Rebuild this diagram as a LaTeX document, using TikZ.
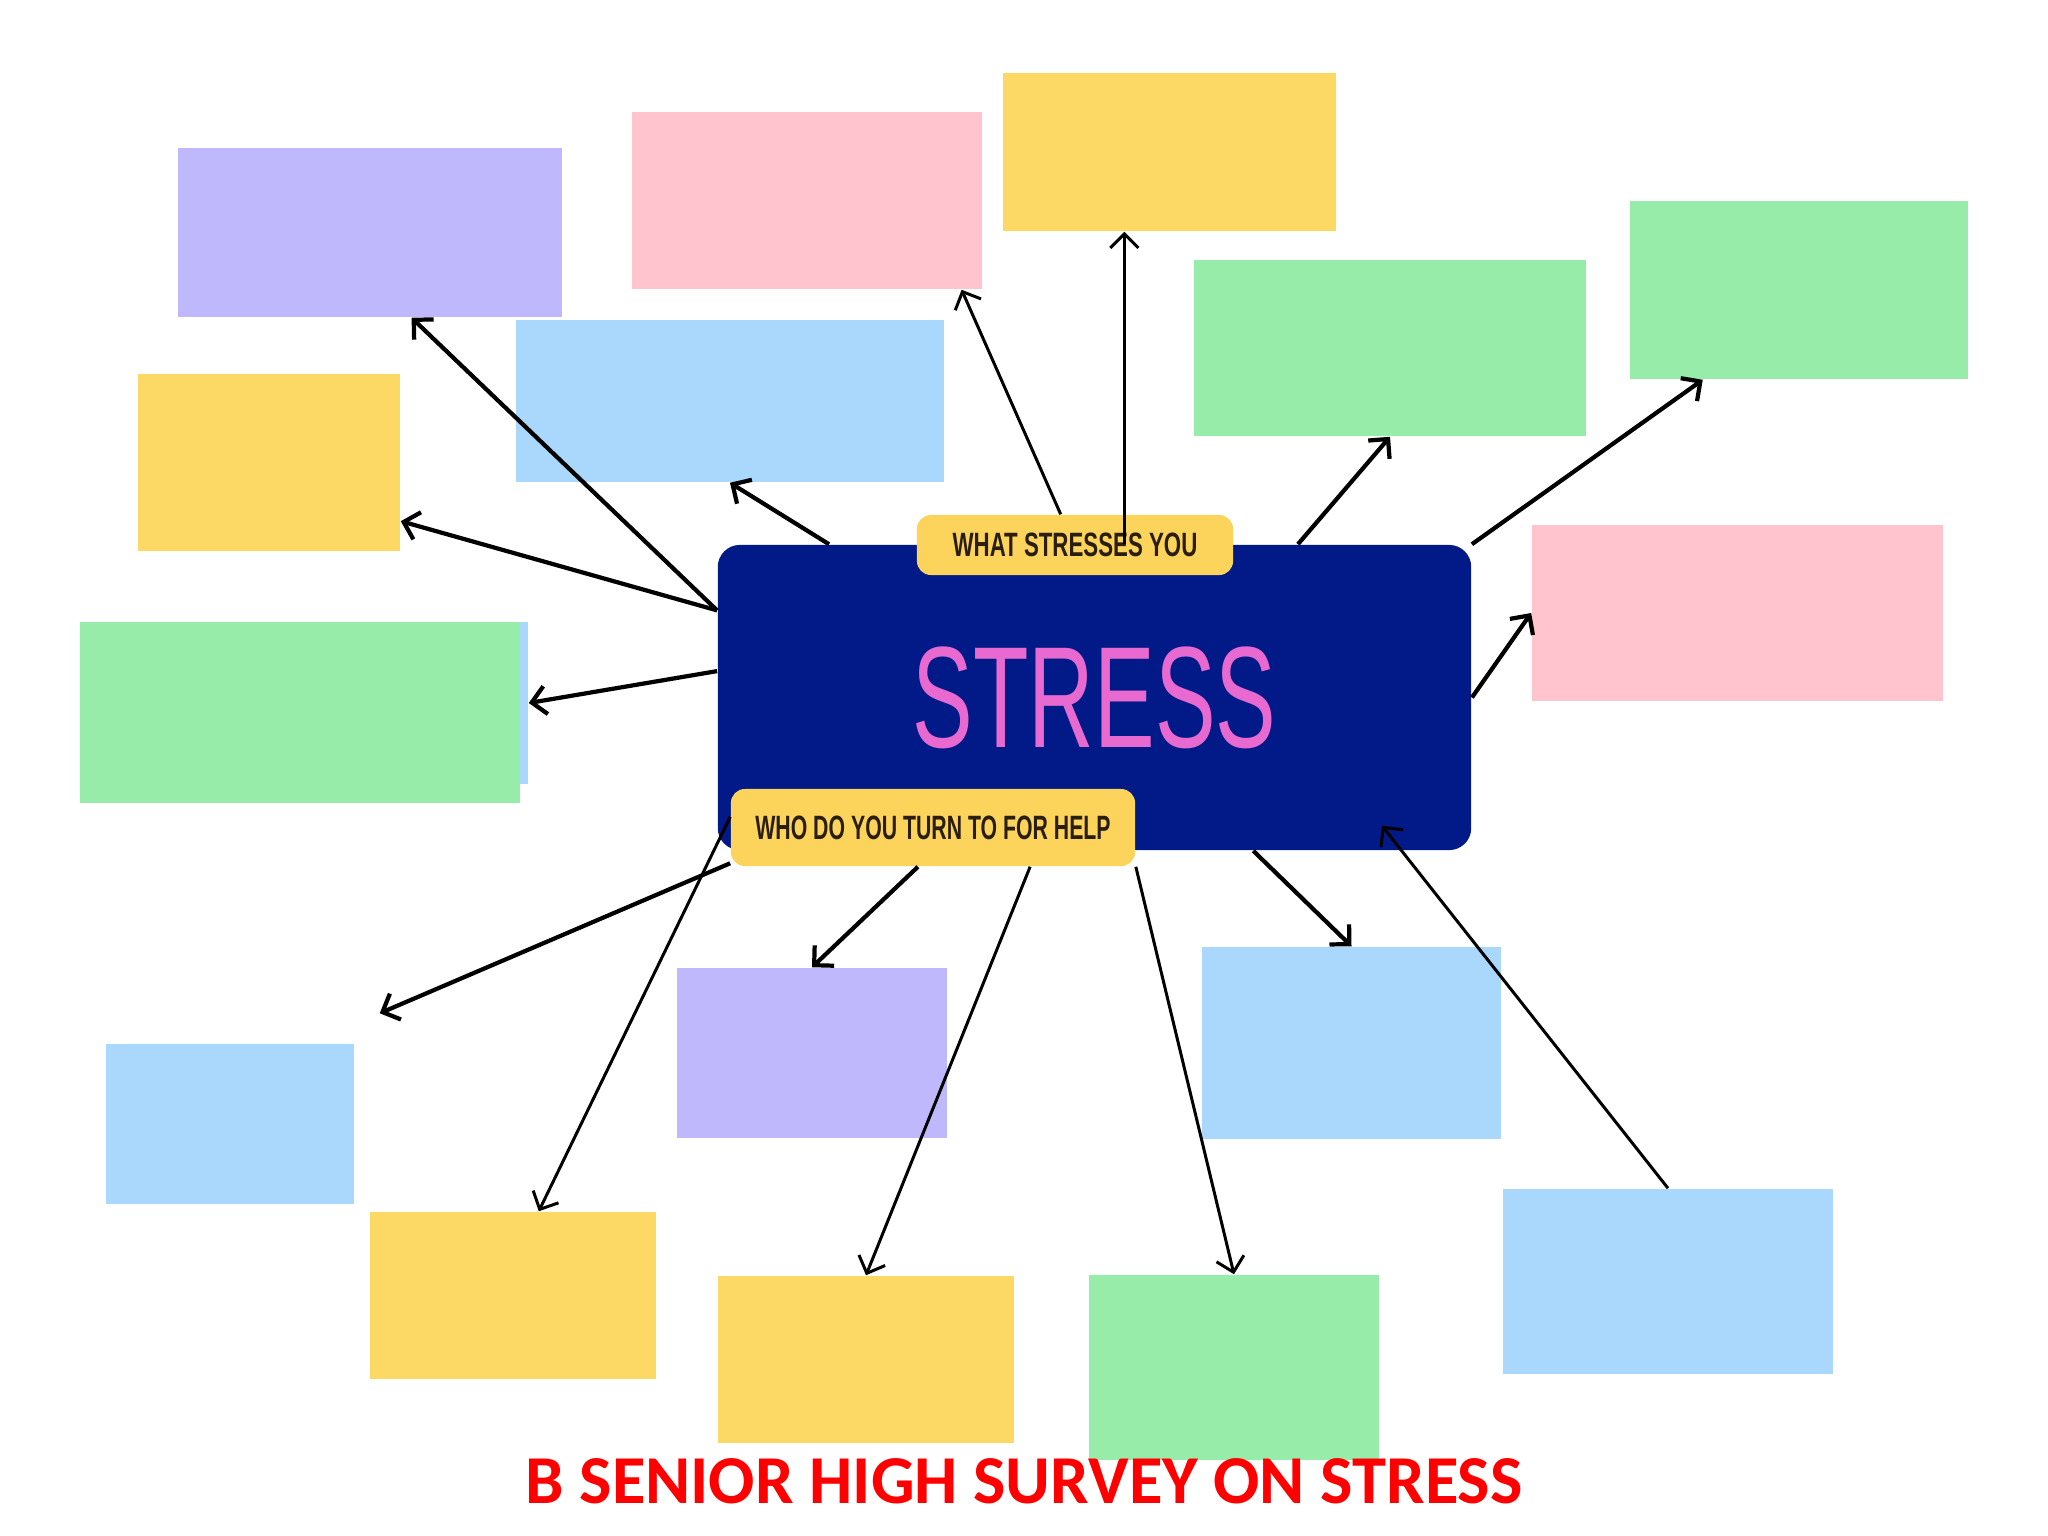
\documentclass[tikz,border=0pt]{standalone}
\usepackage{fontspec}
\setmainfont{Liberation Sans}
\newfontfamily\titlefont{Carlito}
\usetikzlibrary{arrows.meta}
\definecolor{cardpurple}{HTML}{C0B8FC}
\definecolor{cardpink}{HTML}{FFC4CE}
\definecolor{cardyellow}{HTML}{FCD864}
\definecolor{cardgreen}{HTML}{98ECAA}
\definecolor{cardblue}{HTML}{AAD8FC}
\definecolor{stressnavy}{HTML}{021A88}
\definecolor{stresspink}{HTML}{E86AD0}
\definecolor{tagyellow}{HTML}{FCD45C}
\definecolor{tagtext}{HTML}{2A1E10}
\definecolor{titlered}{HTML}{FF0000}
\begin{document}
\begin{tikzpicture}[x=0.01cm,y=-0.01cm]
\tikzstyle{every node}+=[inner sep=0pt]
\tikzstyle{card}=[rectangle,draw=none]
\tikzstyle{tag}=[rectangle,rounded corners=0.14cm,fill=tagyellow,text=tagtext,font=\fontsize{9.6}{10}\selectfont\bfseries]
\tikzstyle{link}=[-{Straight Barb[length=4pt,width=8pt]},line width=1.2pt,black]
\tikzstyle{thin link}=[link,line width=0.85pt]
\useasboundingbox (0,0) rectangle (2048,1536);
\fill [white] (0,0) rectangle (2048,1536);
\node [card,fill=cardpurple,minimum width=3.84cm,minimum height=1.69cm] (purpA) at (370,232.5) {};
\node [card,fill=cardpink,minimum width=3.50cm,minimum height=1.77cm] (pinkA) at (807,200.5) {};
\node [card,fill=cardyellow,minimum width=3.33cm,minimum height=1.58cm] (yelA) at (1169.5,152) {};
\node [card,fill=cardgreen,minimum width=3.92cm,minimum height=1.76cm] (grnA) at (1390,348) {};
\node [card,fill=cardgreen,minimum width=3.38cm,minimum height=1.78cm] (grnB) at (1799,290) {};
\node [card,fill=cardblue,minimum width=4.28cm,minimum height=1.62cm] (bluA) at (730,401) {};
\node [card,fill=cardyellow,minimum width=2.62cm,minimum height=1.77cm] (yelB) at (269,462.5) {};
\node [card,fill=cardblue,minimum width=2.28cm,minimum height=1.62cm] (bluE) at (414,703) {};
\node [card,fill=cardgreen,minimum width=4.40cm,minimum height=1.81cm] (grnC) at (300,712.5) {};
\node [card,fill=cardpink,minimum width=4.11cm,minimum height=1.76cm] (pinkB) at (1737.5,613) {};
\node [card,fill=cardblue,minimum width=2.48cm,minimum height=1.60cm] (bluB) at (230,1124) {};
\node [card,fill=cardpurple,minimum width=2.70cm,minimum height=1.70cm] (purpB) at (812,1053) {};
\node [card,fill=cardblue,minimum width=2.99cm,minimum height=1.92cm] (bluC) at (1351.5,1043) {};
\node [card,fill=cardyellow,minimum width=2.86cm,minimum height=1.67cm] (yelC) at (513,1295.5) {};
\node [card,fill=cardyellow,minimum width=2.96cm,minimum height=1.67cm] (yelD) at (866,1359.5) {};
\node [card,fill=cardgreen,minimum width=2.90cm,minimum height=1.85cm] (grnD) at (1234,1367.5) {};
\node [card,fill=cardblue,minimum width=3.30cm,minimum height=1.85cm] (bluD) at (1668,1281.5) {};
\node [card,fill=stressnavy,rounded corners=0.22cm,minimum width=7.53cm,minimum height=3.05cm] (stress) at (1094.5,697.5) {};
\node [text=stresspink,font=\fontsize{41}{41}\selectfont] (stressword) at (stress.center) {\scalebox{0.63}[1]{STRESS}};
\node [tag,minimum width=3.16cm,minimum height=0.60cm] (lblTop) at (1075,545) {\scalebox{0.66}[1]{WHAT STRESSES YOU}};
\node [tag,minimum width=4.04cm,minimum height=0.77cm] (lblBot) at (933,827.5) {\scalebox{0.63}[1]{WHO DO YOU TURN TO FOR HELP}};
\node [text=titlered,font=\titlefont\fontsize{19.5}{20}\selectfont\bfseries] (title) at (1024,1481) {B SENIOR HIGH SURVEY ON STRESS};
\draw [link] (stress.167) -- (purpA.-64);
\draw [link] (stress.167) -- (yelB.-24);
\draw [link] (stress.176) -- (bluE.east);
\draw [link] (stress.150) -- (bluA.south);
\draw [thin link] (lblTop.115) -- (pinkA.-30);
\draw [thin link] (stress.79) -- (stress.79 |- yelA.south);
\draw [link] (stress.37) -- (grnA.south);
\draw [link] (stress.north east) -- (grnB.-137);
\draw [link] (stress.east) -- (pinkB.west);
\draw [link] (lblBot.190) -- ([shift={(25,-30)}]bluB.north east);
\draw [thin link] (lblBot.177) -- (yelC.73);
\draw [link] (lblBot.-111) -- (purpB.north);
\draw [thin link] (lblBot.-22) -- (yelD.north);
\draw [thin link] (lblBot.south east) -- (grnD.north);
\draw [link] (stress.-44) -- (bluC.north);
\draw [thin link] (bluD.north) -- ([shift={(-90,-25)}]stress.south east);
\end{tikzpicture}
\end{document}
